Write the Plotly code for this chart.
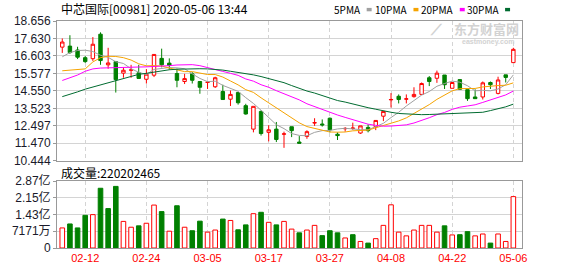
import plotly.graph_objects as go

# ---------------- data ----------------
date_labels = ["02-12", "02-24", "03-05", "03-17", "03-27", "04-08", "04-22", "05-06"]
date_index = [3, 11, 19, 27, 35, 43, 51, 59]

opens = [17.12, 17.18, 16.95, 16.50, 16.44, 17.88, 16.08, 16.27, 15.59, 15.76,
         15.61, 15.23, 15.47, 16.46, 16.18, 15.57, 15.10, 15.55, 15.10, 15.04,
         14.79, 14.51, 14.06, 14.45, 13.68, 12.30, 13.34, 12.11, 12.30, 12.00,
         12.44, 11.54, 11.87, 12.66, 12.60, 12.94, 12.00, 12.32, 12.34, 12.07,
         12.40, 12.45, 13.06, 14.02, 14.23, 14.06, 14.21, 14.34, 15.32, 15.29,
         15.48, 14.70, 15.21, 14.62, 14.19, 14.19, 15.04, 14.40, 15.49, 16.21]
highs = [17.63, 17.82, 17.14, 16.59, 17.71, 17.99, 17.08, 16.31, 15.93, 16.08,
         16.08, 15.83, 16.69, 17.03, 16.46, 15.85, 15.55, 15.65, 15.10, 15.08,
         15.38, 14.91, 14.57, 14.45, 13.79, 13.64, 13.40, 12.53, 12.72, 12.15,
         12.44, 11.89, 12.23, 12.94, 12.87, 12.98, 12.11, 12.42, 12.68, 12.49,
         12.58, 12.81, 13.34, 14.42, 14.34, 14.34, 14.76, 15.04, 15.42, 15.74,
         15.48, 15.04, 15.21, 14.62, 14.64, 15.10, 15.10, 15.38, 15.49, 17.08]
lows = [16.78, 16.72, 16.42, 16.19, 16.31, 16.08, 15.85, 14.45, 15.32, 15.32,
        15.28, 14.98, 15.36, 15.93, 15.80, 14.76, 14.95, 14.98, 14.38, 14.66,
        14.72, 14.04, 13.66, 13.74, 13.15, 12.11, 11.92, 11.58, 11.54, 11.20,
        11.83, 11.47, 11.73, 12.49, 12.45, 12.11, 11.66, 12.15, 12.26, 12.02,
        12.11, 12.24, 12.77, 13.57, 13.81, 13.81, 14.15, 14.34, 14.83, 15.02,
        14.66, 14.70, 14.64, 13.96, 14.09, 14.04, 14.66, 14.34, 15.04, 16.21]
closes = [17.42, 16.80, 16.53, 16.27, 17.29, 16.33, 16.19, 15.21, 15.76, 15.78,
          15.28, 15.53, 16.69, 16.08, 16.04, 15.17, 15.27, 15.17, 14.76, 15.06,
          15.32, 14.04, 14.34, 13.85, 13.19, 13.64, 12.04, 12.26, 11.69, 12.02,
          12.21, 11.47, 12.15, 12.68, 12.55, 12.26, 11.92, 12.34, 12.36, 12.49,
          12.21, 12.81, 13.34, 14.04, 14.04, 14.08, 14.34, 14.98, 15.10, 15.59,
          14.91, 15.04, 14.64, 14.09, 14.09, 15.02, 14.91, 15.19, 15.34, 16.99]

ma5 = [16.55, 16.80, 16.92, 16.94, 16.86, 16.64, 16.52, 16.26, 16.16, 15.85,
       15.64, 15.51, 15.81, 15.87, 15.92, 15.90, 15.85, 15.55, 15.28, 15.09,
       15.12, 14.87, 14.70, 14.52, 14.15, 13.81, 13.41, 13.00, 12.56, 12.33,
       12.04, 11.93, 11.91, 12.11, 12.21, 12.22, 12.31, 12.35, 12.29, 12.27,
       12.26, 12.44, 12.64, 12.98, 13.29, 13.66, 13.97, 14.30, 14.51, 14.82,
       14.98, 15.12, 15.06, 14.85, 14.55, 14.58, 14.55, 14.66, 14.91, 15.49]
ma10 = [15.73, 15.76, 15.79, 15.84, 16.25, 16.50, 16.58, 16.57, 16.50, 16.36,
        16.14, 16.02, 16.03, 16.01, 15.89, 15.77, 15.68, 15.68, 15.58, 15.51,
        15.51, 15.36, 15.13, 14.90, 14.62, 14.46, 14.14, 13.85, 13.54, 13.24,
        12.93, 12.67, 12.45, 12.34, 12.27, 12.13, 12.12, 12.13, 12.20, 12.24,
        12.24, 12.38, 12.50, 12.63, 12.78, 12.96, 13.21, 13.47, 13.74, 14.05,
        14.32, 14.55, 14.68, 14.68, 14.69, 14.78, 14.84, 14.86, 14.88, 15.02]
ma20 = [15.16, 15.33, 15.48, 15.70, 15.84, 15.89, 15.91, 15.92, 15.93, 15.94,
        15.95, 15.96, 15.97, 15.99, 16.03, 16.07, 16.10, 16.09, 16.03, 15.93,
        15.83, 15.69, 15.58, 15.46, 15.25, 15.12, 14.91, 14.76, 14.56, 14.37,
        14.22, 14.02, 13.79, 13.62, 13.44, 13.30, 13.13, 12.99, 12.87, 12.74,
        12.59, 12.52, 12.47, 12.48, 12.53, 12.55, 12.66, 12.80, 12.97, 13.15,
        13.28, 13.46, 13.59, 13.66, 13.73, 13.87, 14.02, 14.16, 14.31, 14.54]
ma30 = [14.21, 14.34, 14.49, 14.65, 14.78, 14.91, 15.02, 15.14, 15.29, 15.41,
        15.52, 15.58, 15.65, 15.73, 15.79, 15.82, 15.84, 15.85, 15.85, 15.84,
        15.82, 15.77, 15.70, 15.64, 15.57, 15.49, 15.39, 15.28, 15.16, 15.03,
        14.86, 14.68, 14.54, 14.42, 14.26, 14.12, 13.98, 13.89, 13.77, 13.66,
        13.56, 13.47, 13.36, 13.29, 13.22, 13.19, 13.16, 13.15, 13.16, 13.18,
        13.16, 13.20, 13.21, 13.22, 13.25, 13.29, 13.39, 13.49, 13.61, 13.77]

volumes = [86e6, 103e6, 86e6, 140e6, 143e6, 256e6, 169e6, 264e6, 114e6, 89e6,
           95e6, 106e6, 184e6, 156e6, 72e6, 181e6, 89e6, 74e6, 115e6, 68e6,
           77e6, 124e6, 118e6, 78e6, 99e6, 147e6, 153e6, 110e6, 99e6, 114e6,
           81e6, 65e6, 77e6, 97e6, 53e6, 74e6, 65e6, 43e6, 57e6, 28e6,
           21e6, 40e6, 97e6, 185e6, 68e6, 52e6, 77e6, 97e6, 97e6, 68e6,
           95e6, 56e6, 57e6, 70e6, 52e6, 60e6, 21e6, 60e6, 28e6, 220202465]
# 1 = red (hollow) volume bar, 0 = green (filled)
vol_up = [1, 0, 0, 0, 1, 0, 0, 0, 1, 1,
          0, 1, 1, 0, 1, 0, 1, 0, 0, 1,
          1, 0, 1, 0, 0, 1, 0, 1, 0, 1,
          1, 0, 1, 1, 0, 0, 0, 1, 0, 1,
          0, 1, 1, 1, 1, 1, 1, 1, 1, 1,
          0, 1, 0, 0, 1, 1, 0, 1, 1, 1]

price_ticks = [10.444, 11.470, 12.497, 13.523, 14.550, 15.577, 16.603, 17.630, 18.656]
vol_ticks = [0, 71.71e6, 143.42e6, 215.13e6, 286.84e6]
vol_tick_text = ["0", "7171万", "1.43亿", "2.15亿", "2.87亿"]

# ---------------- style ----------------
RED = "#ff0000"
GREEN = "#008000"
C5, C10, C20, C30 = "#a0a0a0", "#f5a300", "#ff00ff", "#006b30"
GRID = "#d4d4d4"
BORDER = "#999999"
W, H = 578, 276
ML, MR, MT, MB = 55, 56, 21, 21
PW, PH = W - ML - MR, H - MT - MB

def px(x):
    return (x - ML) / PW

def py(y):
    return (H - MB - y) / PH

idx = list(range(len(closes)))

fig = go.Figure()
fig.add_trace(go.Candlestick(
    x=idx, open=opens, high=highs, low=lows, close=closes,
    increasing=dict(line=dict(color=RED, width=1), fillcolor="white"),
    decreasing=dict(line=dict(color=GREEN, width=1), fillcolor=GREEN),
    whiskerwidth=0, xaxis="x", yaxis="y", hoverinfo="skip", showlegend=False))
for vals, col in [(ma5, C5), (ma10, C10), (ma20, C20), (ma30, C30)]:
    fig.add_trace(go.Scatter(x=idx, y=vals, mode="lines",
                             line=dict(color=col, width=1),
                             xaxis="x", yaxis="y", hoverinfo="skip", showlegend=False))

fig.add_trace(go.Bar(
    x=idx, y=volumes,
    marker=dict(color=["white" if u else GREEN for u in vol_up],
                line=dict(color=[RED if u else GREEN for u in vol_up], width=1)),
    xaxis="x2", yaxis="y2", hoverinfo="skip", showlegend=False))

xr = [-0.69, 60.13]
common_x = dict(range=xr, tickvals=date_index, showgrid=True, gridcolor=GRID,
                griddash="4px,3px", gridwidth=1, zeroline=False,
                showline=True, mirror=True, linecolor=BORDER, linewidth=1)
fig.update_layout(
    width=W, height=H, margin=dict(l=ML, r=MR, t=MT, b=MB),
    paper_bgcolor="white", plot_bgcolor="white",
    boxgap=0.36, bargap=0.4, hovermode=False,
    xaxis=dict(**common_x, domain=[0, 1], anchor="y", showticklabels=False,
               ticks="", rangeslider=dict(visible=False)),
    yaxis=dict(domain=[py(165), 1], range=[price_ticks[0], price_ticks[-1]],
               tickvals=price_ticks, ticktext=["%.3f" % v for v in price_ticks],
               showgrid=True, gridcolor=GRID, zeroline=False,
               showline=True, mirror=True, linecolor=BORDER, linewidth=1,
               ticks="outside", ticklen=3, tickcolor=BORDER,
               tickfont=dict(family="Liberation Sans", size=12, color="#1a1a2a")),
    xaxis2=dict(**common_x, domain=[0, 1], anchor="y2", ticktext=date_labels,
                ticks="", tickfont=dict(family="Liberation Sans", size=11, color=RED)),
    yaxis2=dict(domain=[0, py(186)], range=[0, vol_ticks[-1]],
                tickvals=vol_ticks, ticktext=vol_tick_text,
                showgrid=True, gridcolor=GRID, zeroline=False,
                showline=True, mirror=True, linecolor=BORDER, linewidth=1,
                ticks="outside", ticklen=3, tickcolor=BORDER,
                tickfont=dict(family="Liberation Sans, Noto Sans CJK SC", size=12,
                              color="#1a1a2a")),
)

ann = []
ann.append(dict(x=px(57), y=py(8), xref="paper", yref="paper", xanchor="left",
                yanchor="middle", showarrow=False,
                text="中芯国际[00981] 2020-05-06 13:44",
                font=dict(family="Noto Sans CJK SC", size=12, color="#000")))
ann.append(dict(x=px(57), y=py(177.5), xref="paper", yref="paper", xanchor="left",
                yanchor="middle", showarrow=False, text="成交量:220202465",
                font=dict(family="Noto Sans CJK SC", size=12, color="#000")))
legend_items = [("5PMA", C5, 362.5, 366), ("10PMA", C10, 409.5, 413),
                ("20PMA", C20, 456, 459.5), ("30PMA", C30, 501.5, 505)]
shapes = []
for name, col, tx, sx in legend_items:
    ann.append(dict(x=px(tx), y=py(9), xref="paper", yref="paper", xanchor="right",
                    yanchor="middle", showarrow=False, text=name,
                    font=dict(family="Noto Sans CJK SC", size=10, color="#000")))
    shapes.append(dict(type="rect", xref="paper", yref="paper",
                       x0=px(sx), x1=px(sx + 5), y0=py(11), y1=py(7.5),
                       fillcolor=col, line=dict(width=0)))
# watermark
ann.append(dict(x=px(486), y=py(28.5), xref="paper", yref="paper", xanchor="center",
                yanchor="middle", showarrow=False, text="<b>东方财富网</b>",
                font=dict(family="Noto Sans CJK SC", size=13, color="#d2d2d2")))
ann.append(dict(x=px(488), y=py(42.5), xref="paper", yref="paper", xanchor="center",
                yanchor="middle", showarrow=False, text="<b>eastmoney.com</b>",
                font=dict(family="Liberation Sans", size=7, color="#d2d2d2")))
ann.append(dict(x=px(436), y=py(30), xref="paper", yref="paper", xanchor="center",
                yanchor="middle", showarrow=False, text="<b>⟋</b>",
                font=dict(family="DejaVu Sans", size=15, color="#d2d2d2")))
fig.update_layout(annotations=ann, shapes=shapes)

fig.write_html("out.html", config={"displayModeBar": False})
